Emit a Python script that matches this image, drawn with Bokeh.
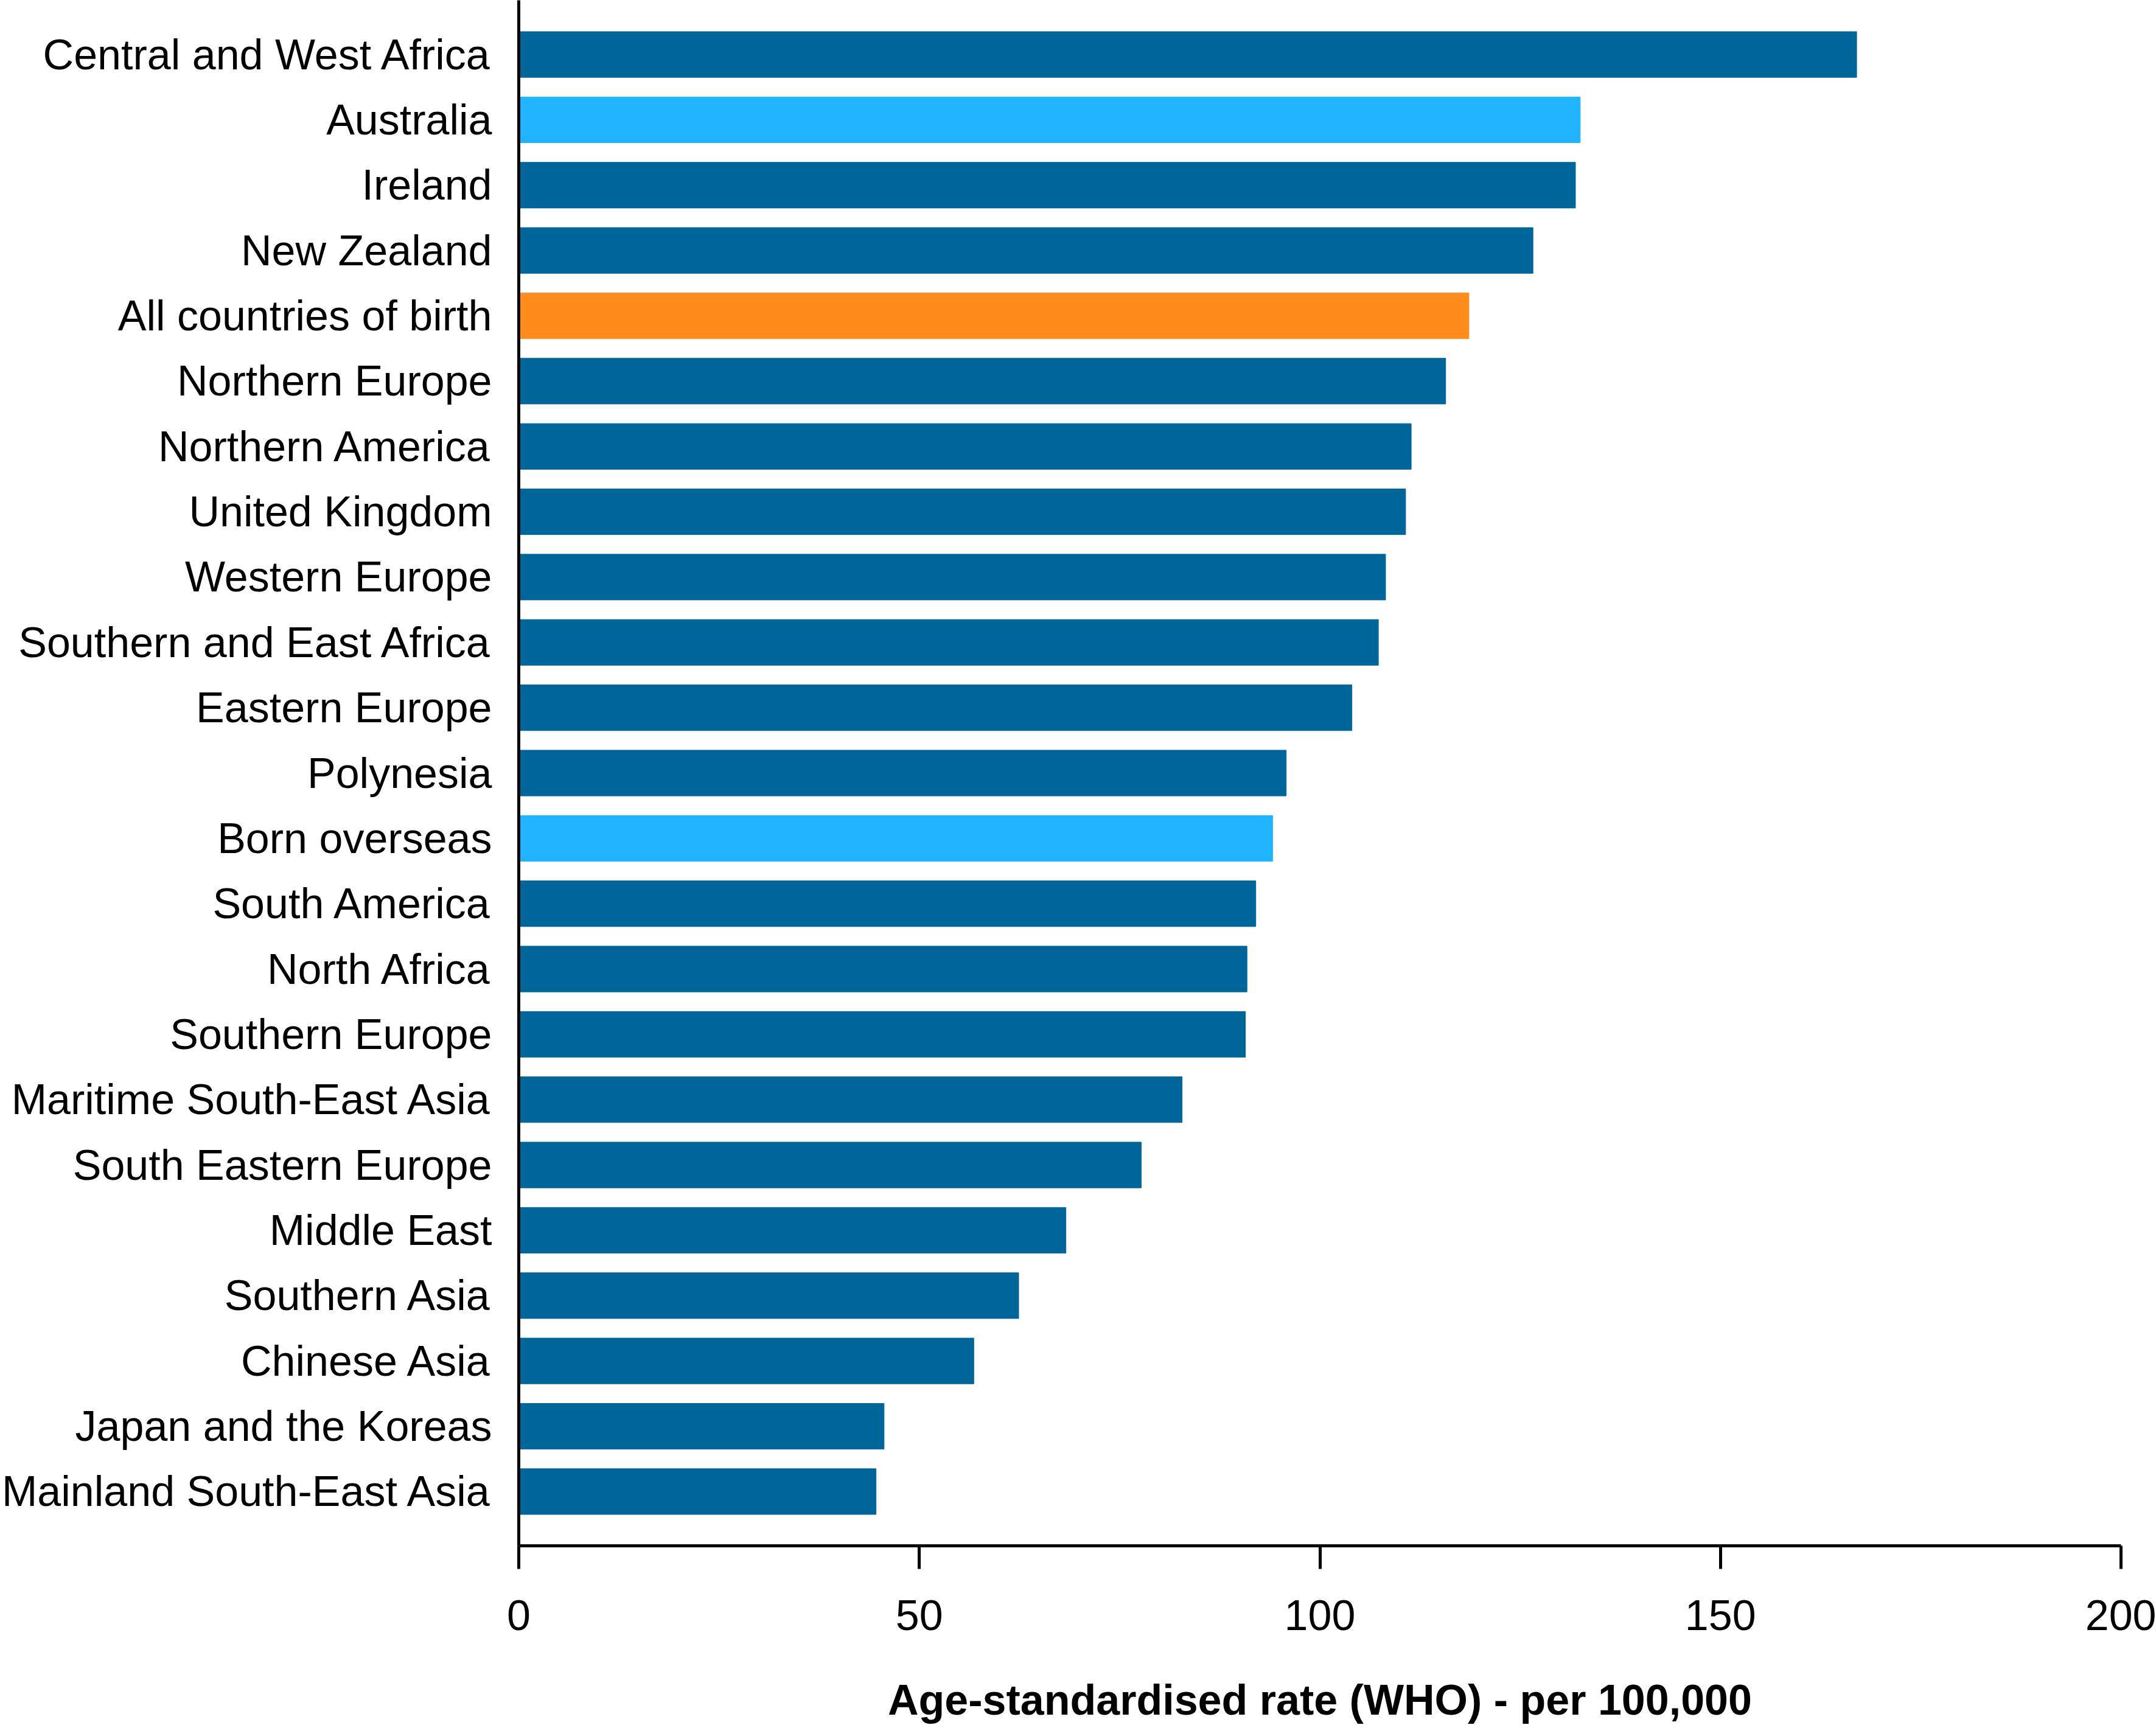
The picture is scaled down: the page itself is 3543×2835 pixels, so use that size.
from bokeh.plotting import figure
from bokeh.models import ColumnDataSource, FactorRange, Range1d, FixedTicker
from bokeh.embed import file_html
from bokeh.resources import INLINE

# Age-standardised rates by country/region of birth (top to bottom)
regions = [
    "Central and West Africa",
    "Australia",
    "Ireland",
    "New Zealand",
    "All countries of birth",
    "Northern Europe",
    "Northern America",
    "United Kingdom",
    "Western Europe",
    "Southern and East Africa",
    "Eastern Europe",
    "Polynesia",
    "Born overseas",
    "South America",
    "North Africa",
    "Southern Europe",
    "Maritime South-East Asia",
    "South Eastern Europe",
    "Middle East",
    "Southern Asia",
    "Chinese Asia",
    "Japan and the Koreas",
    "Mainland South-East Asia",
]
rates = [
    167.0, 132.5, 131.9, 126.6, 118.6, 115.7, 111.4, 110.7, 108.2, 107.3,
    104.0, 95.8, 94.1, 92.0, 90.9, 90.7, 82.8, 77.7, 68.3, 62.4,
    56.8, 45.6, 44.6,
]
groups = [
    "region", "australia", "region", "region", "total", "region", "region",
    "region", "region", "region", "region", "region", "overseas", "region",
    "region", "region", "region", "region", "region", "region", "region",
    "region", "region",
]
x_ticks = [0, 50, 100, 150, 200]

palette = {
    "region": "#006699",
    "australia": "#20B4FF",
    "overseas": "#20B4FF",
    "total": "#FF8C1C",
}
colors = [palette[g] for g in groups]

source = ColumnDataSource(dict(region=regions, rate=rates, color=colors))

FONT = "Liberation Sans"

p = figure(
    width=3543,
    height=2835,
    y_range=FactorRange(factors=list(reversed(regions)),
                        range_padding=0.33, range_padding_units="absolute"),
    x_range=Range1d(0, 200),
    output_backend="svg",
    toolbar_location=None,
    min_border_left=849,
    min_border_right=58,
    min_border_top=0,
    min_border_bottom=295,
)

p.hbar(y="region", right="rate", left=0, height=0.7, source=source,
       fill_color="color", line_color="color", line_width=1)

p.outline_line_color = None
p.background_fill_color = "white"
p.border_fill_color = "white"
p.xgrid.grid_line_color = None
p.ygrid.grid_line_color = None

# horizontal value axis
xa = p.xaxis[0]
xa.ticker = FixedTicker(ticks=x_ticks)
xa.axis_line_color = "black"
xa.axis_line_width = 5
xa.major_tick_line_color = "black"
xa.major_tick_line_width = 5
xa.major_tick_in = 0
xa.major_tick_out = 38
xa.minor_tick_line_color = None
xa.major_label_text_font = FONT
xa.major_label_text_font_size = "70px"
xa.major_label_text_color = "black"
xa.major_label_standoff = 51
xa.axis_label = "Age-standardised rate (WHO) - per 100,000"
xa.axis_label_text_font = FONT
xa.axis_label_text_font_size = "70px"
xa.axis_label_text_font_style = "bold"
xa.axis_label_text_color = "black"
xa.axis_label_standoff = 73

# category axis
ya = p.yaxis[0]
ya.axis_line_color = "black"
ya.axis_line_width = 5
ya.major_tick_line_color = None
ya.major_tick_in = 0
ya.major_tick_out = 0
ya.minor_tick_line_color = None
ya.major_label_text_font = FONT
ya.major_label_text_font_size = "70px"
ya.major_label_text_color = "black"
ya.major_label_standoff = 44

open("out.html", "w").write(file_html(p, INLINE))
